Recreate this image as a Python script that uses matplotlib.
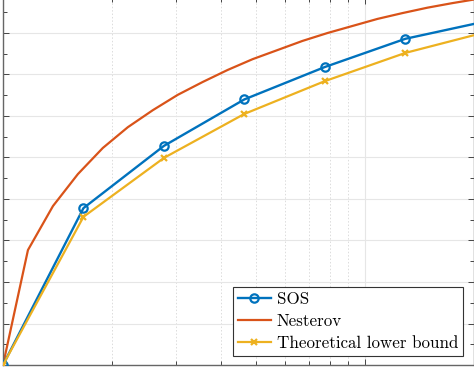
import matplotlib
matplotlib.use("Agg")
import numpy as np
from matplotlib import pyplot as plt
from matplotlib.ticker import FixedLocator, MultipleLocator, NullFormatter

# sample points (log-spaced) and values
x_sos = [1.0, 1.668, 2.783, 4.642, 7.743, 12.92, 21.54]
y_sos = [0.0, 3.78, 5.28, 6.40, 7.18, 7.86, 8.28]

x_lower = [1.0, 1.668, 2.783, 4.642, 7.743, 12.92, 21.54]
y_lower = [0.0, 3.57, 4.99, 6.05, 6.84, 7.52, 8.02]

x_nest = [1.0, 1.172, 1.374, 1.610, 1.887, 2.212, 2.593, 3.039, 3.562, 4.175,
          4.894, 5.736, 6.723, 7.880, 9.237, 10.83, 12.69, 14.87, 17.43, 20.43]
y_nest = [0.0, 2.77, 3.83, 4.60, 5.23, 5.73, 6.14, 6.51, 6.82, 7.11,
          7.37, 7.59, 7.81, 8.00, 8.17, 8.34, 8.48, 8.61, 8.72, 8.82]

labels = ['SOS', 'Nesterov', 'Theoretical lower bound']

blue = '#0072BD'
orange = '#D95319'
yellow = '#EDB120'

W, H = 474, 368
fig = plt.figure(figsize=(W / 100, H / 100), dpi=100)
# axes run a bit past the top of the crop, like the reference
left, right, bottom, top = 3, 474, 365, -2
ax = fig.add_axes([left / W, (H - bottom) / H, (right - left) / W, (bottom - top) / H])

ax.plot(x_sos, y_sos, color=blue, lw=1.7, marker='o', ms=6,
        mfc='none', mew=1.6, label=labels[0], zorder=3)
ax.plot(x_nest, y_nest, color=orange, lw=1.6, label=labels[1], zorder=2)
ax.plot(x_lower, y_lower, color=yellow, lw=1.6, marker='x', ms=5,
        mew=1.6, label=labels[2], zorder=3)

ax.set_xscale('log')
ax.set_xlim(1, 20)
ax.set_ylim(0, (bottom - top) / 41.5)

ax.xaxis.set_major_locator(FixedLocator([1, 10]))
ax.xaxis.set_minor_locator(FixedLocator([2, 3, 4, 5, 6, 7, 8, 9, 20]))
ax.yaxis.set_major_locator(MultipleLocator(1))
ax.yaxis.set_minor_locator(MultipleLocator(0.5))
ax.xaxis.set_major_formatter(NullFormatter())
ax.xaxis.set_minor_formatter(NullFormatter())
ax.yaxis.set_major_formatter(NullFormatter())

ax.tick_params(which='both', direction='in', top=True, right=True,
               color='#444444', width=0.7)
ax.tick_params(which='major', length=4)
ax.tick_params(which='minor', length=3)

ax.grid(True, which='major', color='#e6e6e6', lw=0.8, ls='-')
ax.grid(True, which='minor', axis='x', color='#dcdcdc', lw=0.7, ls=(0, (1.5, 2)))
ax.set_axisbelow(True)

for s in ax.spines.values():
    s.set_color('#666666')
    s.set_linewidth(1.0)

leg = ax.legend(loc='lower right', bbox_to_anchor=((463 - left) / (right - left),
                                                   (bottom - 356) / (bottom - top)),
                borderaxespad=0, prop={'family': 'cmr10', 'size': 12.2},
                fancybox=False, framealpha=1, edgecolor='#333333',
                handlelength=1.95, handletextpad=0.35, labelspacing=0.4,
                borderpad=0.28)
leg.get_frame().set_linewidth(0.8)

fig.savefig('out.png', dpi=100)
